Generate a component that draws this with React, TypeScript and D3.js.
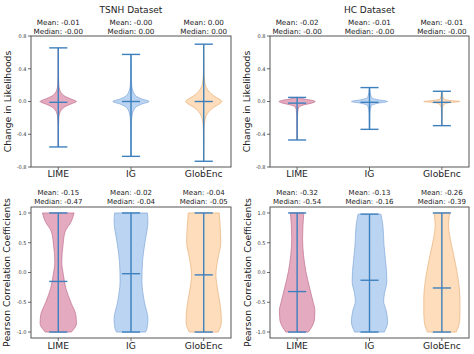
import React from "react";
import * as d3 from "d3";

const categories = ["LIME", "IG", "GlobEnc"];
const fills = ["#dc93ae", "#a8c8ee", "#fcd3a8"];
const edges = ["#c0708e", "#7fa8d8", "#e8b07a"];

// change in likelihoods: extrema, mean labels
const tsnhChangeMin = [-0.555, -0.67, -0.73];
const tsnhChangeMax = [0.655, 0.575, 0.7];
const tsnhChangeMean = [-0.01, -0.0, 0.0];
const tsnhChangeMeanText = ["-0.01", "-0.00", "0.00"];
const tsnhChangeMedianText = ["-0.00", "0.00", "0.00"];

const hcChangeMin = [-0.47, -0.34, -0.295];
const hcChangeMax = [0.05, 0.17, 0.125];
const hcChangeMean = [-0.02, -0.01, -0.01];
const hcChangeMeanText = ["-0.02", "-0.01", "-0.01"];
const hcChangeMedianText = ["-0.00", "-0.00", "-0.00"];

// pearson correlation
const tsnhCorrMin = [-1.0, -1.0, -1.0];
const tsnhCorrMax = [1.0, 1.0, 1.0];
const tsnhCorrMean = [-0.15, -0.02, -0.04];
const tsnhCorrMeanText = ["-0.15", "-0.02", "-0.04"];
const tsnhCorrMedianText = ["-0.47", "-0.04", "-0.05"];

const hcCorrMin = [-1.0, -1.0, -1.0];
const hcCorrMax = [1.0, 0.98, 1.0];
const hcCorrMean = [-0.32, -0.13, -0.26];
const hcCorrMeanText = ["-0.32", "-0.13", "-0.26"];
const hcCorrMedianText = ["-0.54", "-0.16", "-0.39"];

// density profiles [value, relative width]
const tsnhChangeDensity: [number, number][][] = [
  [[0.655, 0.01], [0.3, 0.015], [0.2, 0.03], [0.15, 0.07], [0.1, 0.18], [0.06, 0.4], [0.03, 0.7], [0, 1.0], [-0.03, 0.7], [-0.06, 0.4], [-0.1, 0.18], [-0.15, 0.07], [-0.2, 0.03], [-0.3, 0.015], [-0.555, 0.01]],
  [[0.575, 0.01], [0.3, 0.02], [0.2, 0.04], [0.14, 0.09], [0.1, 0.16], [0.06, 0.32], [0.03, 0.6], [0, 1.0], [-0.03, 0.6], [-0.06, 0.32], [-0.1, 0.16], [-0.14, 0.09], [-0.2, 0.04], [-0.3, 0.02], [-0.67, 0.01]],
  [[0.7, 0.01], [0.35, 0.02], [0.25, 0.05], [0.18, 0.12], [0.12, 0.3], [0.07, 0.55], [0.03, 0.85], [0, 1.0], [-0.03, 0.85], [-0.07, 0.55], [-0.12, 0.3], [-0.18, 0.12], [-0.25, 0.05], [-0.35, 0.02], [-0.73, 0.01]],
];
const hcChangeDensity: [number, number][][] = [
  [[0.05, 0.05], [0.03, 0.4], [0.01, 0.9], [0, 1.0], [-0.02, 0.8], [-0.04, 0.4], [-0.06, 0.15], [-0.1, 0.05], [-0.2, 0.02], [-0.47, 0.01]],
  [[0.17, 0.01], [0.05, 0.1], [0.02, 0.5], [0, 1.0], [-0.02, 0.5], [-0.05, 0.1], [-0.15, 0.02], [-0.34, 0.01]],
  [[0.125, 0.01], [0.03, 0.1], [0.01, 0.6], [0, 1.0], [-0.01, 0.6], [-0.03, 0.15], [-0.08, 0.03], [-0.295, 0.01]],
];
const tsnhCorrDensity: [number, number][][] = [
  [[1.0, 0.87], [0.86, 0.72], [0.68, 0.37], [0.46, 0.26], [0.18, 0.19], [-0.04, 0.28], [-0.27, 0.42], [-0.5, 0.69], [-0.72, 0.97], [-0.86, 1.0], [-0.97, 0.8], [-1.0, 0.72]],
  [[1.0, 0.9], [0.86, 0.93], [0.51, 0.77], [0.18, 0.63], [-0.15, 0.6], [-0.5, 0.74], [-0.78, 0.93], [-0.94, 0.88], [-1.0, 0.8]],
  [[1.0, 0.85], [0.8, 0.9], [0.51, 0.94], [0.23, 0.78], [-0.04, 0.67], [-0.32, 0.78], [-0.6, 0.93], [-0.83, 0.97], [-1.0, 0.8]],
];
const hcCorrDensity: [number, number][][] = [
  [[1.0, 0.37], [0.79, 0.32], [0.57, 0.3], [0.3, 0.35], [0.02, 0.48], [-0.26, 0.69], [-0.48, 0.87], [-0.64, 0.98], [-0.78, 0.96], [-0.92, 0.8], [-1.0, 0.62]],
  [[0.98, 0.63], [0.79, 0.74], [0.46, 0.8], [0.18, 0.89], [0.02, 0.94], [-0.15, 0.96], [-0.35, 0.83], [-0.48, 0.78], [-0.65, 0.93], [-0.83, 1.0], [-1.0, 0.82]],
  [[1.0, 0.43], [0.79, 0.37], [0.57, 0.46], [0.3, 0.65], [0.02, 0.83], [-0.2, 0.94], [-0.43, 1.0], [-0.65, 1.0], [-0.83, 0.97], [-1.0, 0.8]],
];

const changeTicks = [0.8, 0.4, 0.0, -0.4, -0.8];
const corrTicks = [1.0, 0.5, 0.0, -0.5, -1.0];

const FONT = "DejaVu Sans, sans-serif";
const LINE = "#3d80bd";

type PanelProps = {
  left: number; right: number; top: number; bottom: number;
  yDomain: [number, number]; ticks: number[];
  mins: number[]; maxs: number[]; means: number[];
  meanText: string[]; medianText: string[];
  density: [number, number][][];
  title?: string; ylabel: string;
  meanY: number; medianY: number; statSize: number; catY: number; ylabelX: number;
};

function Panel(p: PanelProps) {
  const x = d3.scaleLinear().domain([0.625, 3.375]).range([p.left, p.right]);
  const y = d3.scaleLinear().domain(p.yDomain).range([p.bottom, p.top]);
  const half = (x(2) - x(1)) * 0.25;
  const cap = (x(2) - x(1)) * 0.125;
  const midY = (p.top + p.bottom) / 2;
  return (
    <g>
      {p.title && (
        <text x={(p.left + p.right) / 2} y={13} textAnchor="middle" fontSize={9} fill="#222" fontFamily={FONT}>
          {p.title}
        </text>
      )}
      {categories.map((c, i) => {
        const cx = x(i + 1);
        const area = d3
          .area<[number, number]>()
          .y((d) => y(d[0]))
          .x0((d) => cx - d[1] * half)
          .x1((d) => cx + d[1] * half)
          .curve(d3.curveMonotoneY);
        return (
          <g key={c}>
            <text x={cx} y={p.meanY} textAnchor="middle" fontSize={p.statSize} fill="#222" fontFamily={FONT}>
              Mean: {p.meanText[i]}
            </text>
            <text x={cx} y={p.medianY} textAnchor="middle" fontSize={p.statSize} fill="#222" fontFamily={FONT}>
              Median: {p.medianText[i]}
            </text>
            <path d={area(p.density[i]) || ""} fill={fills[i]} stroke={edges[i]} strokeWidth={0.7} fillOpacity={0.78} />
            <line x1={cx} x2={cx} y1={y(p.mins[i])} y2={y(p.maxs[i])} stroke={LINE} strokeWidth={1.4} />
            <line x1={cx - cap} x2={cx + cap} y1={y(p.mins[i])} y2={y(p.mins[i])} stroke={LINE} strokeWidth={1.4} />
            <line x1={cx - cap} x2={cx + cap} y1={y(p.maxs[i])} y2={y(p.maxs[i])} stroke={LINE} strokeWidth={1.4} />
            <line x1={cx - cap} x2={cx + cap} y1={y(p.means[i])} y2={y(p.means[i])} stroke={LINE} strokeWidth={1.4} />
            <line x1={cx} x2={cx} y1={p.bottom} y2={p.bottom + 3} stroke="#444" strokeWidth={0.8} />
            <text x={cx} y={p.catY} textAnchor="middle" fontSize={9.2} fill="#222" fontFamily={FONT}>
              {c}
            </text>
          </g>
        );
      })}
      <rect x={p.left} y={p.top} width={p.right - p.left} height={p.bottom - p.top} fill="none" stroke="#555" strokeWidth={1} />
      {p.ticks.map((t) => (
        <g key={t}>
          <line x1={p.left - 3} x2={p.left} y1={y(t)} y2={y(t)} stroke="#444" strokeWidth={0.8} />
          <text x={p.left - 4.5} y={y(t) + 1.8} textAnchor="end" fontSize={5} fill="#333" fontFamily={FONT}>
            {t.toFixed(1)}
          </text>
        </g>
      ))}
      <text
        transform={`translate(${p.ylabelX},${midY}) rotate(-90)`}
        textAnchor="middle"
        fontSize={9.3}
        fill="#222"
        fontFamily={FONT}
      >
        {p.ylabel}
      </text>
    </g>
  );
}

export default function App() {
  return (
    <svg width={474} height={354} style={{ position: "absolute", left: 0, top: 0, background: "#fff" }}>
      <Panel left={31} right={231} top={36} bottom={167} yDomain={[-0.8, 0.8]} ticks={changeTicks}
        mins={tsnhChangeMin} maxs={tsnhChangeMax} means={tsnhChangeMean}
        meanText={tsnhChangeMeanText} medianText={tsnhChangeMedianText} density={tsnhChangeDensity}
        title="TSNH Dataset" ylabel="Change in Likelihoods" meanY={24.5} medianY={33.5} statSize={7.2} catY={176.5} ylabelX={11} />
      <Panel left={270} right={469} top={36} bottom={167} yDomain={[-0.8, 0.8]} ticks={changeTicks}
        mins={hcChangeMin} maxs={hcChangeMax} means={hcChangeMean}
        meanText={hcChangeMeanText} medianText={hcChangeMedianText} density={hcChangeDensity}
        title="HC Dataset" ylabel="Change in Likelihoods" meanY={24.5} medianY={33.5} statSize={7.2} catY={176.5} ylabelX={250} />
      <Panel left={31} right={231} top={207} bottom={338} yDomain={[-1.1, 1.1]} ticks={corrTicks}
        mins={tsnhCorrMin} maxs={tsnhCorrMax} means={tsnhCorrMean}
        meanText={tsnhCorrMeanText} medianText={tsnhCorrMedianText} density={tsnhCorrDensity}
        ylabel="Pearson Correlation Coefficients" meanY={195} medianY={203.6} statSize={7} catY={349} ylabelX={10} />
      <Panel left={270} right={469} top={207} bottom={338} yDomain={[-1.1, 1.1]} ticks={corrTicks}
        mins={hcCorrMin} maxs={hcCorrMax} means={hcCorrMean}
        meanText={hcCorrMeanText} medianText={hcCorrMedianText} density={hcCorrDensity}
        ylabel="Pearson Correlation Coefficients" meanY={195} medianY={203.6} statSize={7} catY={349} ylabelX={251} />
    </svg>
  );
}
